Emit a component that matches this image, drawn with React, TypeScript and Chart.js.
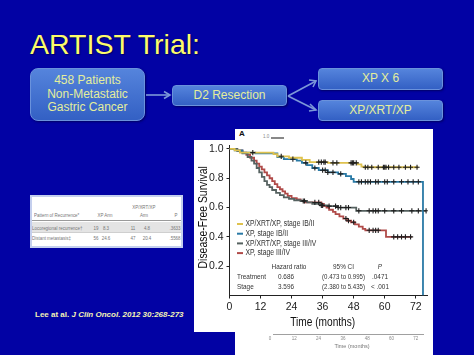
import React, { useEffect, useRef } from "react";
import { Chart, registerables } from "chart.js";

Chart.register(...registerables);

const SANS = "'Liberation Sans', Arial, Helvetica, sans-serif";

// ---- KM chart data ----
const xTicks = [0, 12, 24, 36, 48, 60, 72];
const yTicks = [0.2, 0.4, 0.6, 0.8, 1.0];

const seriesNames = [
  "XP/XRT/XP, stage IB/II",
  "XP, stage IB/II",
  "XP/XRT/XP, stage III/IV",
  "XP, stage III/IV",
];
const seriesColors = ["#dfc24e", "#2a7aa6", "#566260", "#b04a48"];

const ybTimes = [0, 2, 4, 17, 18.5, 23, 28, 31, 38, 49.5, 51, 52, 73];
const ybSurv = [1.0, 0.99, 0.975, 0.965, 0.95, 0.94, 0.925, 0.91, 0.905, 0.895, 0.88, 0.875, 0.875];

const xbTimes = [0, 2, 5, 10, 18.5, 21, 26, 28, 30, 32, 34.5, 38, 42, 45, 47, 48, 74.8, 74.8];
const xbSurv = [1.0, 0.99, 0.975, 0.97, 0.945, 0.93, 0.92, 0.905, 0.89, 0.87, 0.855, 0.84, 0.83, 0.815, 0.795, 0.776, 0.776, 0];

const ysTimes = [0, 3, 5, 7, 8.5, 9.5, 10.5, 11.5, 12.5, 13.5, 14.5, 15.5, 16.5, 18, 19.5, 21, 23, 25, 27.5, 30, 32, 35, 38, 42, 49, 76];
const ysSurv = [1.0, 0.985, 0.97, 0.945, 0.92, 0.9, 0.87, 0.84, 0.81, 0.78, 0.755, 0.74, 0.72, 0.7, 0.685, 0.67, 0.66, 0.65, 0.645, 0.635, 0.625, 0.615, 0.61, 0.6, 0.578, 0.578];

const xsTimes = [0, 3, 5, 6.5, 8, 9.5, 10.5, 11.5, 12.5, 13.5, 14.5, 15.5, 16.5, 17.5, 18.5, 19.5, 20.5, 21.5, 22.5, 24, 26, 27.5, 29, 35.5, 36.5, 37.5, 38.5, 40, 41, 42.5, 44, 45.5, 47, 48.5, 50, 51.5, 52.5, 60.5, 70.5];
const xsSurv = [1.0, 0.99, 0.975, 0.96, 0.94, 0.92, 0.9, 0.88, 0.86, 0.84, 0.82, 0.8, 0.78, 0.76, 0.74, 0.725, 0.71, 0.695, 0.68, 0.665, 0.655, 0.645, 0.635, 0.625, 0.61, 0.6, 0.585, 0.57, 0.555, 0.54, 0.525, 0.51, 0.5, 0.485, 0.47, 0.455, 0.445, 0.4, 0.4];

const ybCensor = [20, 34.5, 35.5, 36.5, 37, 40, 41.5, 47, 47.5, 48, 49, 52.5, 53.5, 55, 57.5, 59.5, 60, 60.5, 61.5, 63.5, 65.5, 68, 70, 72.5];
const xbCensor = [9, 24.5, 29.5, 33, 36, 37, 38, 40, 43, 50, 51, 52.5, 53.5, 54.5, 56.5, 57.5, 60, 61, 63.5, 66.5, 69, 71, 73];
const ysCensor = [29, 35.5, 36, 38.5, 41, 42, 43, 45, 46, 50, 54, 55.5, 56.5, 57.5, 60, 63.5, 66.5, 70.5, 73, 76];
const xsCensor = [28.5, 33, 34.5, 45, 46, 48, 54, 55.5, 56.5, 57.5, 63.5, 65, 66.5, 68, 70];

const yTitle = "Disease-Free Survival";
const xTitle = "Time (months)";
const hrHeader = ["Hazard ratio", "95% CI", "P"];
const hrRows = ["Treatment", "Stage"];
const hrValues = ["0.686", "3.596"];
const hrCI = ["(0.473 to 0.995)", "(2.380 to 5.435)"];
const hrP = [".0471", "< .001"];

// ---- slide text ----
const titleText = "ARTIST Trial:";
const box1Lines = ["458 Patients", "Non-Metastatic", "Gastric Cancer"];
const box2Text = "D2 Resection";
const box3Text = "XP X 6";
const box4Text = "XP/XRT/XP";
const citeA = "Lee at al. ";
const citeB = "J Clin Oncol. 2012 30:268-273";

const tblCols = ["Pattern of Recurrence*", "XP Arm", "XP/XRT/XP", "Arm", "P"];
const tblRowNames = ["Locoregional recurrence\u2020", "Distant metastasis\u2021"];
const tblXpN = ["19", "56"];
const tblXpPct = ["8.3", "24.6"];
const tblXrtN = ["11", "47"];
const tblXrtPct = ["4.8", "20.4"];
const tblP = [".3633", ".5568"];

const miniTicks = [0, 12, 24, 36, 48, 60, 72];

function survAt(times: number[], surv: number[], t: number) {
  let v = surv[0];
  for (let i = 0; i < times.length; i++) {
    if (times[i] <= t) v = surv[i];
  }
  return v;
}

const curves = [
  { t: ybTimes, s: ybSurv, c: ybCensor },
  { t: xbTimes, s: xbSurv, c: xbCensor },
  { t: ysTimes, s: ysSurv, c: ysCensor },
  { t: xsTimes, s: xsSurv, c: xsCensor },
];

function condText(ctx: CanvasRenderingContext2D, text: string, x: number, y: number, align: CanvasTextAlign, sx = 0.8, rot = 0) {
  ctx.save();
  ctx.translate(x, y);
  if (rot) ctx.rotate(rot);
  ctx.scale(sx, 1);
  ctx.textAlign = align;
  ctx.fillText(text, 0, 0);
  ctx.restore();
}

const overlayPlugin = {
  id: "kmOverlay",
  afterDraw(chart: any) {
    const { ctx, chartArea: a } = chart;
    ctx.save();
    ctx.textBaseline = "middle";
    // axis titles (condensed)
    ctx.fillStyle = "#111";
    ctx.font = `13px ${SANS}`;
    condText(ctx, yTitle, 9.5, (a.top + a.bottom) / 2 - 3, "center", 0.8, -Math.PI / 2);
    condText(ctx, xTitle, (a.left + a.right) / 2 - 6, a.bottom + 26.5, "center", 0.78);

    ctx.font = `8.5px ${SANS}`;
    seriesNames.forEach((lab, i) => {
      const y = a.top + 79 + i * 9.7;
      ctx.strokeStyle = seriesColors[i];
      ctx.lineWidth = 2;
      ctx.beginPath();
      ctx.moveTo(a.left + 7.5, y);
      ctx.lineTo(a.left + 13.5, y);
      ctx.stroke();
      ctx.fillStyle = "#333";
      condText(ctx, lab, a.left + 16, y, "left", 0.8);
    });
    const cols = [a.left + 59.5, a.left + 114, a.left + 150.5];
    const hy = a.top + 121.5;
    ctx.fillStyle = "#333";
    ctx.font = `8px ${SANS}`;
    condText(ctx, hrHeader[0], cols[0], hy, "center", 0.8);
    condText(ctx, hrHeader[1], cols[1], hy, "center", 0.8);
    ctx.font = `italic 8px ${SANS}`;
    condText(ctx, hrHeader[2], cols[2], hy, "center", 0.8);
    ctx.font = `8px ${SANS}`;
    hrRows.forEach((r, i) => {
      const y = a.top + 132 + i * 10;
      condText(ctx, r, a.left + 7.5, y, "left", 0.8);
      condText(ctx, hrValues[i], cols[0] - 3, y, "center", 0.8);
      condText(ctx, hrCI[i], cols[1], y, "center", 0.76);
      condText(ctx, hrP[i], cols[2], y, "center", 0.8);
    });
    ctx.restore();
  },
};

function KMChart() {
  const ref = useRef<HTMLCanvasElement | null>(null);
  useEffect(() => {
    if (!ref.current) return;
    const censorSets = curves.map((cv) => ({
      type: "line" as const,
      data: cv.c.map((t) => ({ x: t, y: survAt(cv.t, cv.s, t) })),
      showLine: false,
      pointStyle: "cross",
      pointRadius: 2.6,
      pointBorderWidth: 1.1,
      borderColor: "#1e1e1e",
      pointBorderColor: "#1e1e1e",
      backgroundColor: "#1e1e1e",
    }));
    const lineSets = curves.map((cv, i) => ({
      type: "line" as const,
      data: cv.t.map((t, j) => ({ x: t, y: cv.s[j] })),
      stepped: true,
      borderColor: seriesColors[i],
      borderWidth: 1.8,
      pointRadius: 0,
      fill: false,
    }));
    const chart = new Chart(ref.current, {
      type: "line",
      data: { datasets: [...censorSets, ...lineSets] as any },
      options: {
        animation: false,
        responsive: false,
        maintainAspectRatio: false,
        layout: { padding: { left: 0, top: 17, right: 4, bottom: 19.5 } },
        plugins: { legend: { display: false }, tooltip: { enabled: false } },
        scales: {
          x: {
            type: "linear",
            min: 0,
            max: 76.7,
            afterBuildTicks: (s: any) => {
              s.ticks = xTicks.map((v) => ({ value: v }));
            },
            afterFit: (s: any) => {
              s.height = 40;
            },
            grid: { display: true, drawOnChartArea: false, drawTicks: true, tickLength: 3, color: "#222" },
            border: { display: true, color: "#222", width: 1 },
            ticks: { color: "#222", padding: 2, font: { family: SANS, size: 10.5 }, maxRotation: 0, autoSkip: false },
            title: { display: false, text: xTitle },
          },
          y: {
            type: "linear",
            min: 0,
            max: 1.027,
            afterBuildTicks: (s: any) => {
              s.ticks = yTicks.map((v) => ({ value: v }));
            },
            afterFit: (s: any) => {
              s.width = 35.5;
            },
            grid: { display: true, drawOnChartArea: false, drawTicks: true, tickLength: 3, color: "#222" },
            border: { display: true, color: "#222", width: 1 },
            ticks: {
              color: "#222",
              padding: 3,
              font: { family: SANS, size: 10.5 },
              callback: (v: any) => Number(v).toFixed(1),
            },
            title: { display: false, text: yTitle },
          },
        },
      },
      plugins: [overlayPlugin],
    });
    return () => chart.destroy();
  }, []);
  return (
    <canvas
      ref={ref}
      width={239}
      height={227}
      style={{ position: "absolute", left: 194, top: 128, width: 239, height: 227 }}
    />
  );
}

const boxStyle = (left: number, top: number, width: number, height: number, radius: number): React.CSSProperties => ({
  position: "absolute",
  left,
  top,
  width,
  height,
  borderRadius: radius,
  background: "linear-gradient(#5584dc, #3360c4)",
  border: "1px solid #6a92dc",
  boxSizing: "border-box",
  color: "#e4ee9c",
  fontFamily: SANS,
  fontSize: 12,
  display: "flex",
  flexDirection: "column",
  alignItems: "center",
  justifyContent: "center",
  lineHeight: "13.5px",
  boxShadow: "1px 1px 2px rgba(0,0,40,0.5)",
});

const cellStyle = (center: number, top: number): React.CSSProperties => ({
  position: "absolute",
  left: center - 15,
  width: 30,
  top,
  textAlign: "center",
  transform: "scaleX(0.72)",
  transformOrigin: "center top",
});

export default function App() {
  const miniLeft = 270;
  const miniStep = 24.3;
  return (
    <div
      style={{
        position: "fixed",
        left: 0,
        top: 0,
        width: 474,
        height: 355,
        overflow: "hidden",
        background: "#0202a4",
        fontFamily: SANS,
      }}
    >
      <div
        style={{
          position: "absolute",
          left: 30,
          top: 30,
          fontSize: 28.5,
          lineHeight: "28px",
          color: "#fcfc6a",
          fontFamily: SANS,
          whiteSpace: "nowrap",
          textShadow: "1px 1px 1px rgba(0,0,60,0.6)",
        }}
      >
        {titleText}
      </div>

      <div style={boxStyle(30, 68, 115, 53, 8)}>
        {box1Lines.map((l) => (
          <div key={l}>{l}</div>
        ))}
      </div>
      <div style={boxStyle(172, 85, 115, 21, 4)}>{box2Text}</div>
      <div style={boxStyle(318, 68, 125, 22, 4)}>{box3Text}</div>
      <div style={boxStyle(318, 100, 125, 21, 4)}>{box4Text}</div>

      <svg style={{ position: "absolute", left: 0, top: 0 }} width={474} height={140}>
        <g stroke="#7c98d8" strokeWidth={1.6} fill="none">
          <line x1={146} y1={95} x2={170} y2={95} />
          <polyline points="164,91.5 170,95 164,98.5" />
          <line x1={288} y1={96} x2={316} y2={81} />
          <polyline points="309,80 316,81 313,87" />
          <line x1={288} y1={96} x2={316} y2={110} />
          <polyline points="310,104 316,110 309,111" />
        </g>
      </svg>

      {/* recurrence table */}
      <div
        style={{
          position: "absolute",
          left: 30,
          top: 195,
          width: 153,
          height: 53,
          background: "#ffffff",
          border: "2px solid #c4cfee",
          boxSizing: "border-box",
          fontFamily: SANS,
          fontSize: 6.2,
          lineHeight: "7px",
          color: "#767676",
          whiteSpace: "nowrap",
        }}
      >
        <div style={{ position: "absolute", left: 0, right: 0, top: 25, height: 10, background: "#e4e4e4" }} />
        <div style={{ position: "absolute", left: 0, right: 0, top: 23, height: 1, background: "#9a9a9a" }} />
        <div style={{ position: "absolute", left: 0, right: 0, top: 35, height: 1, background: "#cfcfcf" }} />
        <span style={{ position: "absolute", left: 2, top: 14, transform: "scaleX(0.72)", transformOrigin: "left top" }}>{tblCols[0]}</span>
        <span style={cellStyle(73, 14)}>{tblCols[1]}</span>
        <span style={cellStyle(111, 6)}>{tblCols[2]}</span>
        <span style={cellStyle(112, 14)}>{tblCols[3]}</span>
        <span style={cellStyle(144, 14)}>{tblCols[4]}</span>
        {tblRowNames.map((r, i) => (
          <React.Fragment key={r}>
            <span style={{ position: "absolute", left: 0, top: 27 + i * 10, transform: "scaleX(0.72)", transformOrigin: "left top" }}>{r}</span>
            <span style={cellStyle(64, 27 + i * 10)}>{tblXpN[i]}</span>
            <span style={cellStyle(74, 27 + i * 10)}>{tblXpPct[i]}</span>
            <span style={cellStyle(101, 27 + i * 10)}>{tblXrtN[i]}</span>
            <span style={cellStyle(115, 27 + i * 10)}>{tblXrtPct[i]}</span>
            <span style={cellStyle(143, 27 + i * 10)}>{tblP[i]}</span>
          </React.Fragment>
        ))}
      </div>

      <div
        style={{
          position: "absolute",
          left: 35,
          top: 310,
          fontSize: 8,
          lineHeight: "10px",
          fontWeight: "bold",
          color: "#f2f2b4",
          whiteSpace: "nowrap",
          fontFamily: SANS,
        }}
      >
        {citeA}
        <i>{citeB}</i>
      </div>

      {/* white figure panel */}
      <div style={{ position: "absolute", left: 194, top: 140, width: 41, height: 192, background: "#fff" }} />
      <div style={{ position: "absolute", left: 235, top: 129, width: 198, height: 226, background: "#fff" }} />
      <div style={{ position: "absolute", left: 239, top: 129, fontSize: 8, fontWeight: "bold", color: "#111", fontFamily: SANS }}>A</div>
      <div style={{ position: "absolute", left: 263, top: 134, fontSize: 4.5, color: "#888", fontFamily: SANS }}>1.0</div>
      <div style={{ position: "absolute", left: 271, top: 137, width: 13, height: 2, background: "#555", opacity: 0.7 }} />

      <KMChart />

      {/* faint secondary axis from the source figure */}
      <div style={{ position: "absolute", left: 273, top: 334, width: 151, height: 1, background: "#a0a0a0" }} />
      {miniTicks.map((t, i) => (
        <div
          key={t}
          style={{
            position: "absolute",
            left: miniLeft + i * miniStep - 6,
            width: 12,
            top: 336,
            textAlign: "center",
            fontSize: 4.5,
            color: "#8a8a8a",
            fontFamily: SANS,
          }}
        >
          {t}
        </div>
      ))}
      <div
        style={{
          position: "absolute",
          left: 322,
          width: 60,
          top: 343,
          textAlign: "center",
          fontSize: 5.5,
          color: "#777",
          fontFamily: SANS,
        }}
      >
        {xTitle}
      </div>
    </div>
  );
}
